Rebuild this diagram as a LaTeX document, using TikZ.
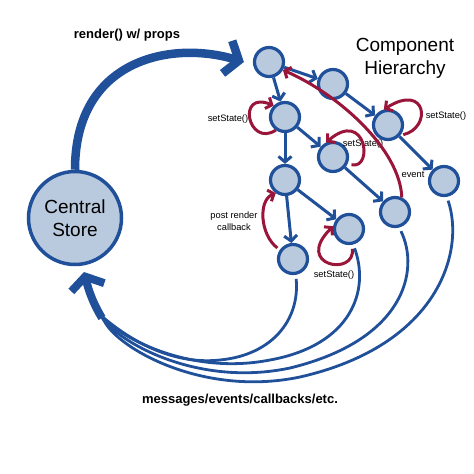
\documentclass[tikz,border=0pt]{standalone}
\usepackage{fontspec}
\setmainfont{Liberation Sans}
\usetikzlibrary{arrows.meta}
\definecolor{hblue}{RGB}{31,80,153}
\definecolor{hfill}{RGB}{185,202,222}
\definecolor{hred}{RGB}{153,22,58}
\tikzset{
  comp/.style={circle, draw=hblue, fill=hfill, line width=3.2pt, minimum size=29pt, inner sep=0pt},
  store/.style={circle, draw=hblue, fill=hfill, line width=3.5pt, minimum size=93pt, inner sep=0pt,
    align=center, font=\fontsize{19}{23}\selectfont},
  flow/.style={draw=hblue, line width=3pt, -{Straight Barb[length=5.5pt,width=13pt]}},
  selfloop/.style={draw=hred, line width=3pt, -{Straight Barb[length=5pt,width=12pt]}},
  back/.style={draw=hblue, line width=2.8pt},
  bigflow/.style={draw=hblue, line width=8.5pt, -{Straight Barb[length=12pt,width=34pt]}},
  small/.style={font=\fontsize{9.3}{12}\selectfont, inner sep=0pt, align=center},
  title/.style={font=\bfseries\fontsize{13}{15}\selectfont, inner sep=0pt}
}
\begin{document}
\begin{tikzpicture}[x=1pt,y=-1pt]
\useasboundingbox (0,0) rectangle (474,474);

% store and components
\node[store] (store) at (75,218) {Central\\Store};
\node[comp] (n1) at (269,62) {};
\node[comp] (n2) at (333,84) {};
\node[comp] (n3) at (285,117) {};
\node[comp] (n4) at (388,125) {};
\node[comp] (n5) at (333,157) {};
\node[comp] (n6) at (285,180) {};
\node[comp] (n7) at (444,181) {};
\node[comp] (n8) at (395,212) {};
\node[comp] (n9) at (349,229) {};
\node[comp] (n10) at (293,259) {};

% labels
\node[title] (render) at (127,35) {render() w/ props};
\node[title] (msgs) at (240,400) {messages/events/callbacks/etc.};
\node[font=\fontsize{19}{23}\selectfont, align=center, inner sep=0pt] (hier) at (405,58) {Component\\Hierarchy};
\node[small] (s3) at (228,119) {setState()};
\node[small] (s4) at (446,116) {setState()};
\node[small] (s5) at (363,144) {setState()};
\node[small] (s9) at (334,275) {setState()};
\node[small] (post) at (234,221) {post render\\callback};
\node[small] (ev) at (413,175) {event};

% hierarchy
\draw[flow] (n1) -- (n2);
\draw[flow] (n1) -- (n3);
\draw[flow] (n2) -- (n4);
\draw[flow] (n3) -- (n5);
\draw[flow] (n3) -- (n6);
\draw[flow] (n4) -- (n7);
\draw[flow] (n5) -- (n8);
\draw[flow] (n6) -- (n9);
\draw[flow] (n6) -- (n10);

% setState loops and callbacks
\draw[selfloop] (n3.235) .. controls (248,148) and (236,90) .. (n3.135);
\draw[selfloop, shorten <=3pt] (n4.-40) .. controls (432,128) and (427,82) .. (n4.105);
\draw[selfloop, shorten <=4pt] (n5.-25) .. controls (374,170) and (366,108) .. (n5.115);
\draw[selfloop, shorten <=4pt] (n9.-80) .. controls (356,277) and (293,266) .. (n9.170);
\draw[selfloop, shorten <=3pt] (n10.145) .. controls (260,235) and (258,200) .. (n6.235);
\draw[selfloop] (n8.65) .. controls (400,150) and (340,95) .. (n1.-30);

% render
\draw[bigflow] (store.north) .. controls (75,60) and (170,40) .. ([xshift=-9pt]n1.west);

% messages back to the store
\coordinate (tip) at (84,272);
\draw[back, shorten <=4pt] (n7.-80) .. controls (465,250) and (440,345) .. (300,377) .. controls (200,398) and (112,345) .. (103,318);
\draw[back, shorten <=4pt] (n8.-75) .. controls (420,270) and (405,340) .. (290,368) .. controls (195,388) and (115,340) .. (101,316);
\draw[back, shorten <=4pt] (n9.-75) .. controls (370,290) and (352,345) .. (270,360) .. controls (188,376) and (117,336) .. (99,314);
\draw[back, shorten <=4pt] (n10.-80) .. controls (300,320) and (272,355) .. (220,360) .. controls (165,366) and (119,332) .. (97,312);
\draw[draw=hblue, line width=8pt, -{Straight Barb[length=11pt,width=34pt]}] (102,318) .. controls (94,305) and (89,292) .. (tip);
\end{tikzpicture}
\end{document}
